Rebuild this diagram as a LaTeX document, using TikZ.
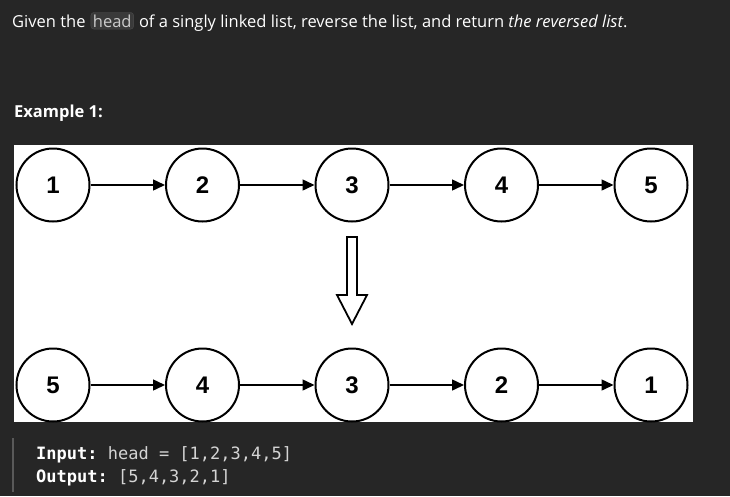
\documentclass[tikz,border=0pt]{standalone}
\usepackage{fontspec}
\setmainfont{Open Sans}
\setsansfont{Liberation Sans}
\setmonofont{DejaVu Sans Mono}
\usetikzlibrary{arrows.meta,positioning}
\definecolor{pagebg}{HTML}{262626}
\definecolor{codebg}{HTML}{3A3A3A}
\definecolor{codetxt}{HTML}{D4D4D4}

\begin{document}
\begin{tikzpicture}[x=1pt,y=-1pt,>={Triangle[length=12pt,width=11pt]},
  listnode/.style={circle,draw=black,line width=2pt,fill=white,minimum size=73pt,
    inner sep=0pt,font=\sffamily\bfseries\fontsize{24}{24}\selectfont},
  prose/.style={text=white,font=\fontsize{16.5}{19}\selectfont,inner sep=0pt},
  codeline/.style={anchor=west,inner sep=0pt,text=codetxt,font=\ttfamily\fontsize{17}{19}\selectfont}]
  \fill[pagebg] (0,0) rectangle (730,496);
  \useasboundingbox (0,0) rectangle (730,496);
  % heading text
  \node[prose,anchor=base west] (given) at (12,27) {Given the};
  \node[prose,draw=gray!60!black,fill=codebg,rounded corners=3pt,inner sep=2pt,
    text=white!80!black,right=5pt of given.base east,anchor=base west] (head) {head};
  \node[prose,right=5pt of head.base east,anchor=base west] (rest)
    {of a singly linked list, reverse the list, and return \textit{the reversed list}.};
  \node[prose,anchor=west,font=\bfseries\fontsize{16.5}{19}\selectfont] (ex) at (14,113) {Example 1:};
  % white panel
  \fill[white] (14,145) rectangle (693,422);
  % lists
  \foreach \v [count=\i] in {1,2,3,4,5}
    \node[listnode] (t\i) at ({53+149.5*(\i-1)},185) {\v};
  \foreach \v [count=\i] in {5,4,3,2,1}
    \node[listnode] (b\i) at ({53+149.5*(\i-1)},385) {\v};
  \foreach \i [evaluate=\i as \j using int(\i+1)] in {1,...,4} {
    \draw[->,line width=1.5pt] (t\i) -- (t\j);
    \draw[->,line width=1.5pt] (b\i) -- (b\j);
  }
  % hollow down arrow
  \draw[line width=1.8pt,fill=white] (347,237) -- (357,237) -- (357,295) -- (367,295)
    -- (352,324) -- (337,295) -- (347,295) -- cycle;
  % code block
  \draw[gray!70!black,line width=1.5pt] (13,438) -- (13,492);
  \node[codeline] (inp) at (36,455) {\textcolor{white}{\textbf{Input:}} head = [1,2,3,4,5]};
  \node[codeline] (outp) at (36,478) {\textcolor{white}{\textbf{Output:}} [5,4,3,2,1]};
\end{tikzpicture}
\end{document}
